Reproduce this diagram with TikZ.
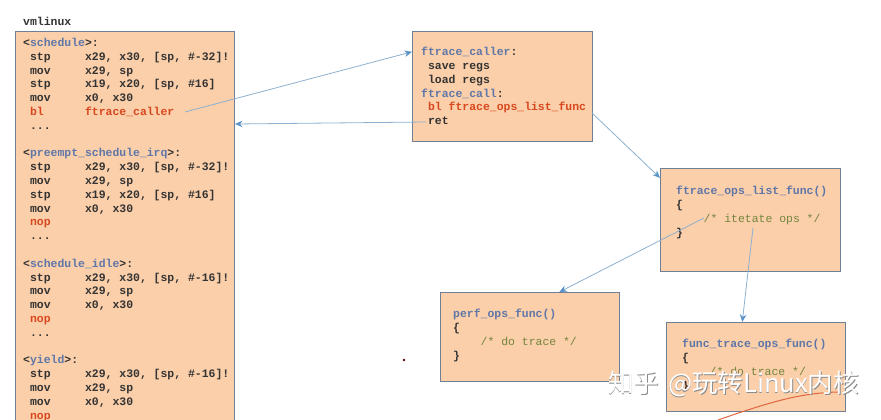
\documentclass[tikz,border=0pt]{standalone}
\usepackage{fontspec}
\setmonofont{Liberation Mono}
\newfontfamily\cjk{Noto Sans CJK SC}
\usetikzlibrary{arrows.meta}
\definecolor{boxfill}{HTML}{FBCFA9}
\definecolor{boxline}{HTML}{6F7F96}
\definecolor{fnblue}{HTML}{5F77A8}
\definecolor{hotred}{HTML}{D8481F}
\definecolor{cmtgreen}{HTML}{74853F}
\definecolor{flowblue}{HTML}{8DB0D0}
\definecolor{tipblue}{HTML}{5B93C8}
\definecolor{inkred}{HTML}{DF6440}
\newcommand{\fn}[1]{\textcolor{fnblue}{#1}}
\newcommand{\hot}[1]{\textcolor{hotred}{#1}}
\newcommand{\cmt}[1]{\textcolor{cmtgreen}{\mdseries #1}}
\tikzset{
codebox/.style={draw=boxline,fill=boxfill,line width=1.1pt,anchor=north west,inner sep=0},
codetext/.style={anchor=north west,inner sep=0,align=left,text=black!80,font=\ttfamily\bfseries\fontsize{11.45}{13.8}\selectfont},
flow/.style={draw=flowblue,line width=.8pt,-{Stealth[length=7.5pt,width=6.5pt,color=tipblue]}},
wmark/.style={anchor=west,inner sep=0,font=\cjk\fontsize{25.5}{30}\selectfont}
}
\begin{document}
\begin{tikzpicture}[x=1pt,y=-1pt]
\clip(0,0)rectangle(881,420);
\node[codetext](vmtitle)at(23,17){vmlinux};
\node[codebox,minimum width=219pt,minimum height=420pt](mainbox)at(15,31){};
\node[codetext](maincode)at(23,38){%
<\fn{schedule}>:\\
~stp~~~~~x29, x30, [sp, \#-32]!\\
~mov~~~~~x29, sp\\
~stp~~~~~x19, x20, [sp, \#16]\\
~mov~~~~~x0, x30\\
~\hot{bl~~~~~~ftrace\_caller}\\
~...\\
~\\
<\fn{preempt\_schedule\_irq}>:\\
~stp~~~~~x29, x30, [sp, \#-32]!\\
~mov~~~~~x29, sp\\
~stp~~~~~x19, x20, [sp, \#16]\\
~mov~~~~~x0, x30\\
~\hot{nop}\\
~...\\
~\\
<\fn{schedule\_idle}>:\\
~stp~~~~~x29, x30, [sp, \#-16]!\\
~mov~~~~~x29, sp\\
~mov~~~~~x0, x30\\
~\hot{nop}\\
~...\\
~\\
<\fn{yield}>:\\
~stp~~~~~x29, x30, [sp, \#-16]!\\
~mov~~~~~x29, sp\\
~mov~~~~~x0, x30\\
~\hot{nop}};
\node[codebox,minimum width=180pt,minimum height=110pt](callerbox)at(412,31){};
\node[codetext](callercode)at(421,47){%
\fn{ftrace\_caller}:\\
~save regs\\
~load regs\\
\fn{ftrace\_call}:\\
~\hot{bl ftrace\_ops\_list\_func}\\
~ret};
\node[codebox,minimum width=180pt,minimum height=103pt](listbox)at(660,168){};
\node[codetext](listcode)at(676,186){%
\fn{ftrace\_ops\_list\_func()}\\
\{\\
~~~~\cmt{/* itetate ops */}\\
\}};
\node[codebox,minimum width=179pt,minimum height=89pt](perfbox)at(440,292){};
\node[codetext](perfcode)at(453,309){%
\fn{perf\_ops\_func()}\\
\{\\
~~~~\cmt{/* do trace */}\\
\}};
\node[codebox,minimum width=179pt,minimum height=89pt](tracebox)at(666,322){};
\node[codetext](tracecode)at(682,339){%
\fn{func\_trace\_ops\_func()}\\
\{\\
~~~~\cmt{/* do trace */}\\
\}};
\coordinate(calleat)at(185,112);
\coordinate(retat)at(426,122);
\coordinate(mainret)at(235,124);
\coordinate(listcall)at(592,113);
\coordinate(iterleft)at(704,218);
\coordinate(iterdown)at(753,228);
\draw[flow](calleat)--(callerbox.159);
\draw[flow](retat)--(mainret);
\draw[flow](listcall)--(listbox.155);
\draw[flow](iterleft)--(perfbox.57);
\draw[flow](iterdown)--(tracebox.107);
\draw[inkred,line width=1pt](718,420)..controls(770,402)and(800,393)..(838,392);
\fill[black!70!red](404,360)circle(1.4pt);
\node[wmark,text=black!45](markshade)at(608.7,384.7){知乎\hspace{9pt}@玩转Linux内核};
\node[wmark,text=white](marktext)at(608,384){知乎\hspace{9pt}@玩转Linux内核};
\end{tikzpicture}
\end{document}
